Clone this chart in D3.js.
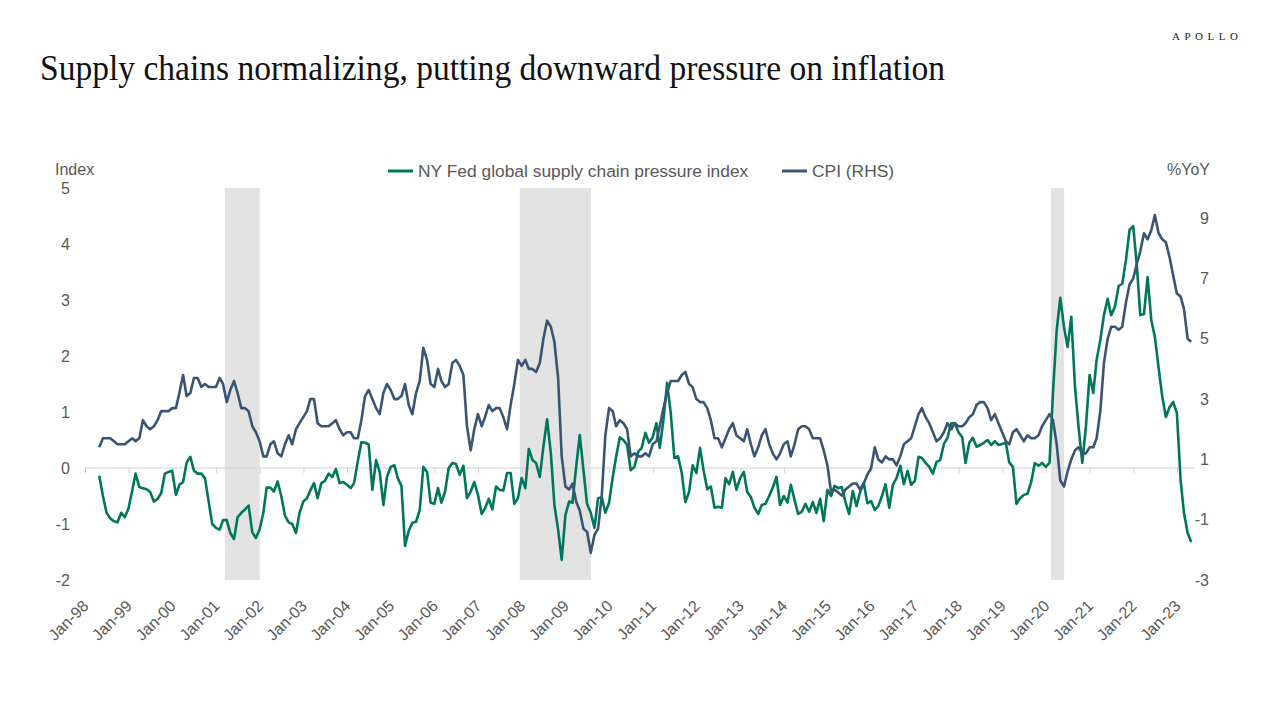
<!DOCTYPE html>
<html>
<head>
<meta charset="utf-8">
<title>Supply chains normalizing</title>
<script src="https://cdn.jsdelivr.net/npm/d3@7"></script>
<style>
  body { margin: 0; background: #fff; }
  svg { display: block; }
  .axis-label, .axis-title {
    font-family: "Liberation Sans", Arial, sans-serif;
    font-size: 16px;
    fill: #595959;
  }
  .legend-label {
    font-family: "Liberation Sans", Arial, sans-serif;
    font-size: 17.4px;
    fill: #595959;
  }
  .chart-title {
    font-family: "Liberation Serif", "Times New Roman", serif;
    font-size: 35px;
    fill: #111;
  }
  .brand {
    font-family: "Liberation Serif", serif;
    font-size: 11px;
    fill: #222;
    letter-spacing: 2px;
  }
</style>
</head>
<body>
<svg id="chart"></svg>
<script>
// first month of both series (April 1998), one value per month after that
const firstMonth = '1998-04';

// NY Fed global supply chain pressure index (left axis)
const gscpi = [
  -0.14, -0.5, -0.8, -0.9, -0.95, -0.97, -0.8, -0.88, -0.72,                 // 1998 Apr-Dec
  -0.4, -0.1, -0.34, -0.36, -0.38, -0.43, -0.6, -0.55, -0.45, -0.1, -0.07, -0.05, // 1999
  -0.48, -0.3, -0.25, 0.1, 0.2, -0.05, -0.1, -0.1, -0.18, -0.6, -1.0, -1.07,   // 2000
  -1.1, -0.93, -0.93, -1.16, -1.27, -0.88, -0.8, -0.74, -0.67, -1.15, -1.25, -1.1, // 2001
  -0.8, -0.35, -0.35, -0.42, -0.24, -0.5, -0.85, -0.97, -1.0, -1.16, -0.8, -0.6,  // 2002
  -0.54, -0.4, -0.27, -0.54, -0.27, -0.23, -0.1, -0.16, -0.02, -0.27, -0.25, -0.3, // 2003
  -0.36, -0.27, 0.12, 0.46, 0.45, 0.42, -0.39, 0.14, -0.07, -0.66, -0.16, 0.02,   // 2004
  0.05, -0.18, -0.32, -1.39, -1.12, -0.98, -0.96, -0.75, 0.02, -0.07, -0.62, -0.64, // 2005
  -0.36, -0.62, -0.42, 0.0, 0.09, 0.07, -0.12, 0.04, -0.54, -0.42, -0.25, -0.48,  // 2006
  -0.82, -0.72, -0.55, -0.74, -0.33, -0.39, -0.4, -0.09, -0.09, -0.64, -0.54, -0.18, // 2007
  -0.36, 0.34, 0.14, 0.09, -0.16, 0.38, 0.87, 0.27, -0.66, -1.1, -1.64, -0.84,    // 2008
  -0.6, -0.62, 0.02, 0.59, -0.04, -0.64, -0.8, -1.07, -0.54, -0.52, -0.8, -0.62,  // 2009
  -0.16, 0.2, 0.55, 0.5, 0.41, -0.04, 0.02, 0.29, 0.36, 0.63, 0.45, 0.55,         // 2010
  0.8, 0.36, 0.86, 1.52, 0.98, 0.18, 0.21, -0.09, -0.61, -0.43, 0.05, -0.09,      // 2011
  0.36, -0.04, -0.38, -0.33, -0.71, -0.69, -0.71, -0.18, -0.29, -0.07, -0.39, -0.18, // 2012
  -0.07, -0.43, -0.52, -0.71, -0.82, -0.66, -0.64, -0.5, -0.35, -0.16, -0.66, -0.5,  // 2013
  -0.62, -0.3, -0.57, -0.82, -0.78, -0.64, -0.78, -0.61, -0.8, -0.55, -0.95, -0.39,  // 2014
  -0.5, -0.32, -0.36, -0.34, -0.61, -0.82, -0.41, -0.68, -0.43, -0.27, -0.63, -0.59, // 2015
  -0.75, -0.68, -0.5, -0.29, -0.71, -0.3, -0.18, 0.04, -0.29, -0.05, -0.3, -0.23,   // 2016
  0.2, 0.18, 0.09, 0.02, -0.1, 0.11, 0.14, 0.43, 0.54, 0.8, 0.8, 0.64,            // 2017
  0.55, 0.09, 0.45, 0.54, 0.38, 0.41, 0.45, 0.5, 0.41, 0.48, 0.41, 0.43,          // 2018
  0.45, 0.1, 0.02, -0.64, -0.54, -0.48, -0.46, -0.25, 0.09, 0.04, 0.09, 0.02,     // 2019
  0.09, 1.34, 2.46, 3.04, 2.52, 2.16, 2.7, 1.45, 0.73, 0.09, 0.73, 1.66,          // 2020
  1.34, 1.93, 2.29, 2.73, 3.02, 2.73, 2.88, 3.25, 3.29, 3.71, 4.25, 4.32,         // 2021
  3.59, 2.73, 2.75, 3.41, 2.64, 2.34, 1.79, 1.27, 0.91, 1.09, 1.18, 0.98,         // 2022
  -0.21, -0.8, -1.16, -1.32                                                       // 2023 Jan-Apr
];

// CPI, %YoY (right axis)
const cpi = [
  1.4, 1.7, 1.7, 1.7, 1.6, 1.5, 1.5, 1.5, 1.6,                 // 1998 Apr-Dec
  1.7, 1.6, 1.7, 2.3, 2.1, 2.0, 2.1, 2.3, 2.6, 2.6, 2.6, 2.7,  // 1999
  2.7, 3.2, 3.8, 3.1, 3.2, 3.7, 3.7, 3.4, 3.5, 3.4, 3.4, 3.4,  // 2000
  3.7, 3.5, 2.9, 3.3, 3.6, 3.2, 2.7, 2.7, 2.6, 2.1, 1.9, 1.6,  // 2001
  1.1, 1.1, 1.5, 1.6, 1.2, 1.1, 1.5, 1.8, 1.5, 2.0, 2.2, 2.4,  // 2002
  2.6, 3.0, 3.0, 2.2, 2.1, 2.1, 2.1, 2.2, 2.3, 2.0, 1.8, 1.9,  // 2003
  1.9, 1.7, 1.7, 2.3, 3.1, 3.3, 3.0, 2.7, 2.5, 3.2, 3.5, 3.3,  // 2004
  3.0, 3.0, 3.1, 3.5, 2.8, 2.5, 3.2, 3.6, 4.7, 4.3, 3.5, 3.4,  // 2005
  4.0, 3.6, 3.4, 3.5, 4.2, 4.3, 4.1, 3.8, 2.1, 1.3, 2.0, 2.5,  // 2006
  2.1, 2.4, 2.8, 2.6, 2.7, 2.7, 2.4, 2.0, 2.8, 3.5, 4.3, 4.1,  // 2007
  4.3, 4.0, 4.0, 3.9, 4.2, 5.0, 5.6, 5.4, 4.9, 3.7, 1.1, 0.1,  // 2008
  0.0, 0.2, -0.4, -0.7, -1.3, -1.4, -2.1, -1.5, -1.3, -0.2, 1.8, 2.7, // 2009
  2.6, 2.1, 2.3, 2.2, 2.0, 1.1, 1.2, 1.1, 1.1, 1.2, 1.1, 1.5,  // 2010
  1.6, 2.1, 2.7, 3.2, 3.6, 3.6, 3.6, 3.8, 3.9, 3.5, 3.4, 3.0,  // 2011
  2.9, 2.9, 2.7, 2.3, 1.7, 1.7, 1.4, 1.7, 2.0, 2.2, 1.8, 1.7,  // 2012
  1.6, 2.0, 1.5, 1.1, 1.4, 1.8, 2.0, 1.5, 1.2, 1.0, 1.2, 1.5,  // 2013
  1.6, 1.1, 1.5, 2.0, 2.1, 2.1, 2.0, 1.7, 1.7, 1.7, 1.3, 0.8,  // 2014
  -0.1, 0.0, -0.1, -0.2, 0.0, 0.1, 0.2, 0.2, 0.0, 0.2, 0.5, 0.7, // 2015
  1.4, 1.0, 0.9, 1.1, 1.0, 1.0, 0.8, 1.1, 1.5, 1.6, 1.7, 2.1,  // 2016
  2.5, 2.7, 2.4, 2.2, 1.9, 1.6, 1.7, 1.9, 2.2, 2.0, 2.2, 2.1,  // 2017
  2.1, 2.2, 2.4, 2.5, 2.8, 2.9, 2.9, 2.7, 2.3, 2.5, 2.2, 1.9,  // 2018
  1.6, 1.5, 1.9, 2.0, 1.8, 1.6, 1.8, 1.7, 1.7, 1.8, 2.1, 2.3,  // 2019
  2.5, 2.3, 1.5, 0.3, 0.1, 0.6, 1.0, 1.3, 1.4, 1.2, 1.2, 1.4,  // 2020
  1.4, 1.7, 2.6, 4.2, 5.0, 5.4, 5.4, 5.3, 5.4, 6.2, 6.8, 7.0,  // 2021
  7.5, 7.9, 8.5, 8.3, 8.6, 9.1, 8.5, 8.3, 8.2, 7.7, 7.1, 6.5,  // 2022
  6.4, 6.0, 5.0, 4.9                                           // 2023 Jan-Apr
];

// shaded recession periods
const recessions = [
  ['2001-03-15', '2002-01-01'],
  ['2007-12-15', '2009-08-01'],
  ['2020-02-12', '2020-06-01']
];

const xTickLabels = ['Jan-98', 'Jan-99', 'Jan-00', 'Jan-01', 'Jan-02', 'Jan-03', 'Jan-04',
  'Jan-05', 'Jan-06', 'Jan-07', 'Jan-08', 'Jan-09', 'Jan-10', 'Jan-11', 'Jan-12', 'Jan-13',
  'Jan-14', 'Jan-15', 'Jan-16', 'Jan-17', 'Jan-18', 'Jan-19', 'Jan-20', 'Jan-21', 'Jan-22', 'Jan-23'];
const leftTicks = [-2, -1, 0, 1, 2, 3, 4, 5];
const rightTicks = [-3, -1, 1, 3, 5, 7, 9];

const seriesNames = ['NY Fed global supply chain pressure index', 'CPI (RHS)'];
const colors = ['#00775A', '#3A5574'];


class SupplyChainChart {

  constructor(_config) {
    this.config = {
      parentElement: _config.parentElement,
      containerWidth: 1280,
      containerHeight: 720,
      plot: {left: 85, right: 1177, top: 188, bottom: 580},
      lineWidth: 2.6
    };
    this.initVis();
  }

  initVis() {
    let vis = this;
    const p = vis.config.plot;

    vis.svg = d3.select(vis.config.parentElement)
        .attr('width', vis.config.containerWidth)
        .attr('height', vis.config.containerHeight);

    vis.svg.append('rect')
        .attr('width', vis.config.containerWidth)
        .attr('height', vis.config.containerHeight)
        .attr('fill', '#fff');

    // monthly dates, placed at the end of each month
    const parseMonth = d3.timeParse('%Y-%m');
    const start = parseMonth(firstMonth);
    vis.data = gscpi.map((v, i) => {
      const m = d3.timeMonth.offset(start, i);
      return {date: d3.timeDay.offset(d3.timeMonth.offset(m, 1), -1), gscpi: v, cpi: cpi[i]};
    });

    const parseTick = d3.timeParse('%b-%y');
    vis.tickDates = xTickLabels.map(parseTick);

    vis.xScale = d3.scaleTime()
        .domain([vis.tickDates[0], vis.tickDates[vis.tickDates.length - 1]])
        .range([p.left, p.right]);

    vis.yLeft = d3.scaleLinear().domain([-2, 5]).range([p.bottom, p.top]);
    vis.yRight = d3.scaleLinear().domain([-3, 10]).range([p.bottom, p.top]);

    vis.renderVis();
  }

  renderVis() {
    let vis = this;
    const p = vis.config.plot;
    const parseDay = d3.timeParse('%Y-%m-%d');

    // Title and brand
    vis.svg.append('text')
        .attr('class', 'chart-title')
        .attr('x', 40)
        .attr('y', 80)
        .attr('textLength', 905)
        .attr('lengthAdjust', 'spacingAndGlyphs')
        .text('Supply chains normalizing, putting downward pressure on inflation');

    vis.svg.append('text')
        .attr('class', 'brand')
        .attr('x', 1172)
        .attr('y', 40)
        .attr('textLength', 68)
        .text('APOLLO');

    // Recession shading
    vis.svg.append('g').selectAll('rect')
        .data(recessions)
      .join('rect')
        .attr('x', d => vis.xScale(parseDay(d[0])))
        .attr('width', d => vis.xScale(parseDay(d[1])) - vis.xScale(parseDay(d[0])))
        .attr('y', p.top)
        .attr('height', p.bottom - p.top)
        .attr('fill', '#e3e3e3');

    // Zero line with year tick marks
    const y0 = vis.yLeft(0);
    vis.svg.append('line')
        .attr('x1', p.left)
        .attr('x2', 1195)
        .attr('y1', y0)
        .attr('y2', y0)
        .attr('stroke', '#d0d0d0')
        .attr('stroke-width', 1);

    const tickAxis = d3.axisBottom(vis.xScale)
        .tickValues(vis.tickDates)
        .tickSize(5)
        .tickFormat('');
    vis.svg.append('g')
        .attr('transform', `translate(0,${y0})`)
        .call(tickAxis)
        .call(g => g.select('.domain').remove())
        .call(g => g.selectAll('line').attr('stroke', '#d0d0d0'));

    // Rotated date labels along the bottom
    const labelAxis = d3.axisBottom(vis.xScale)
        .tickValues(vis.tickDates)
        .tickSize(0)
        .tickFormat((d, i) => xTickLabels[i]);
    vis.svg.append('g')
        .attr('transform', 'translate(0,607)')
        .call(labelAxis)
        .call(g => g.select('.domain').remove())
        .call(g => g.selectAll('text')
            .attr('class', 'axis-label')
            .attr('x', 0)
            .attr('y', 0)
            .attr('dy', 0)
            .attr('transform', 'translate(4,0) rotate(-45)')
            .style('text-anchor', 'end'));

    // Left axis
    vis.svg.append('g')
        .attr('transform', 'translate(70,0)')
        .call(d3.axisLeft(vis.yLeft).tickValues(leftTicks).tickSize(0).tickPadding(0).tickFormat(d => d))
        .call(g => g.select('.domain').remove())
        .call(g => g.selectAll('text').attr('class', 'axis-label'));

    // Right axis
    vis.svg.append('g')
        .attr('transform', 'translate(1209,0)')
        .call(d3.axisRight(vis.yRight).tickValues(rightTicks).tickSize(0).tickPadding(0).tickFormat(d => d))
        .call(g => g.select('.domain').remove())
        .call(g => g.selectAll('text')
            .attr('class', 'axis-label')
            .attr('x', 0)
            .style('text-anchor', 'end'));

    // Axis titles
    vis.svg.append('text')
        .attr('class', 'axis-title')
        .attr('x', 55)
        .attr('y', 175)
        .text('Index');

    vis.svg.append('text')
        .attr('class', 'axis-title')
        .attr('x', 1210)
        .attr('y', 175)
        .style('text-anchor', 'end')
        .text('%YoY');

    // Lines
    const greenLine = d3.line()
        .x(d => vis.xScale(d.date))
        .y(d => vis.yLeft(d.gscpi));
    const blueLine = d3.line()
        .x(d => vis.xScale(d.date))
        .y(d => vis.yRight(d.cpi));

    vis.svg.append('path')
        .datum(vis.data)
        .attr('fill', 'none')
        .attr('stroke', colors[0])
        .attr('stroke-width', vis.config.lineWidth)
        .attr('stroke-linejoin', 'round')
        .attr('d', greenLine);

    vis.svg.append('path')
        .datum(vis.data)
        .attr('fill', 'none')
        .attr('stroke', colors[1])
        .attr('stroke-width', vis.config.lineWidth)
        .attr('stroke-linejoin', 'round')
        .attr('d', blueLine);

    // Legend
    const legendX = [388, 782];
    const legend = vis.svg.append('g').selectAll('g')
        .data(seriesNames)
      .join('g')
        .attr('transform', (d, i) => `translate(${legendX[i]},171)`);

    legend.append('line')
        .attr('x1', 0)
        .attr('x2', 25)
        .attr('stroke', (d, i) => colors[i])
        .attr('stroke-width', 3);

    legend.append('text')
        .attr('class', 'legend-label')
        .attr('x', 30)
        .attr('dy', '0.35em')
        .text(d => d);
  }
}

new SupplyChainChart({parentElement: '#chart'});
</script>
</body>
</html>
